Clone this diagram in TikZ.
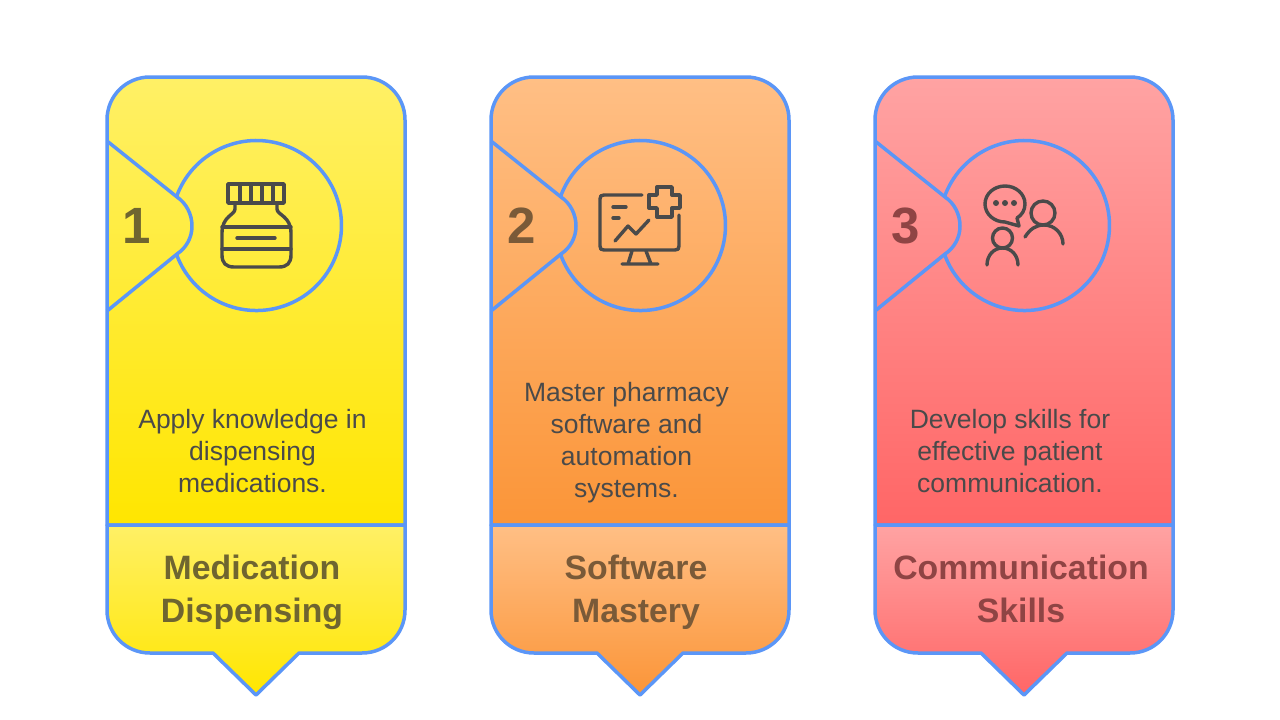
\documentclass[tikz,border=0pt]{standalone}
\usepackage{fontspec}
\setmainfont{Liberation Sans}
\definecolor{edgeblue}{HTML}{5B96F7}
\definecolor{icondark}{HTML}{4A4A4A}
\definecolor{yelA}{HTML}{FFF066}\definecolor{yelB}{HTML}{FFE600}
\definecolor{oraA}{HTML}{FFBF85}\definecolor{oraB}{HTML}{FB9538}
\definecolor{redA}{HTML}{FFA3A3}\definecolor{redB}{HTML}{FF6666}
\definecolor{yelT}{HTML}{6F6530}\definecolor{oraT}{HTML}{7A5A38}
\definecolor{redT}{HTML}{8F4444}
\tikzset{
  outline/.style={draw=edgeblue,line width=3.5pt,line join=round},
  bodytext/.style={text=icondark,align=center,font=\fontsize{26.5}{32}\selectfont,inner sep=0pt},
  titletext/.style={align=center,font=\fontsize{33.8}{43}\selectfont\bfseries,inner sep=0pt},
  numtext/.style={font=\fontsize{51}{51}\selectfont\bfseries,inner sep=0pt},
  icon/.style={draw=icondark,line width=3.4pt,line cap=round,line join=round}
}
\newcommand{\cardshape}[3]{%
\begin{scope}[xshift=#1pt]
  \path[outline,top color=#2,bottom color=#3]
    (107,525) -- (107,120) .. controls (107,96) and (126,77) .. (150,77) -- (362,77)
    .. controls (386,77) and (405,96) .. (405,120) -- (405,525) -- cycle;
  \path[outline,top color=#2,bottom color=#3]
    (107,525) -- (107,610) .. controls (107,634) and (126,653) .. (150,653) -- (213,653)
    -- (256,695) -- (299,653) -- (362,653)
    .. controls (386,653) and (405,634) .. (405,610) -- (405,525) -- cycle;
  \draw[outline] (107,141) -- (177,197) .. controls (186,203) and (192,214) .. (192,226)
    .. controls (192,238) and (186,248) .. (177,254) -- (107,311);
  \draw[outline] (176.4,197) arc[start angle=199.6,end angle=520.4,radius=85];
\end{scope}}
\begin{document}
\begin{tikzpicture}[x=1pt,y=-1pt]
\useasboundingbox (0,0) rectangle (1280,720);
\fill[white] (0,0) rectangle (1280,720);
\cardshape{0}{yelA}{yelB}
\cardshape{384}{oraA}{oraB}
\cardshape{768}{redA}{redB}
% numbers
\node[numtext,text=yelT] (numA) at (136.5,226) {1};
\node[numtext,text=oraT] (numB) at (522,226) {2};
\node[numtext,text=redT] (numC) at (906,226) {3};
% body
\node[bodytext] (bodyA) at (252.5,451) {Apply knowledge in\\dispensing\\medications.};
\node[bodytext] (bodyB) at (626.5,443) {Master pharmacy\\software and\\automation\\systems.};
\node[bodytext] (bodyC) at (1010,451) {Develop skills for\\effective patient\\communication.};
% titles
\node[titletext,text=yelT] (titleA) at (252,592) {Medication\\Dispensing};
\node[titletext,text=oraT] (titleB) at (636,592) {Software\\Mastery};
\node[titletext,text=redT] (titleC) at (1021,589) {Communication\\Skills};
% bottle
\draw[icon] (228,184) rectangle (284,203);
\draw[icon] (240,184) -- (240,203) (251,184) -- (251,203) (262,184) -- (262,203) (273,184) -- (273,203);
\draw[icon] (235,203) -- (235,209) .. controls (235,215) and (222,216) .. (222,233) -- (222,255)
  .. controls (222,263) and (226,267) .. (234,267) -- (279,267)
  .. controls (287,267) and (291,263) .. (291,255) -- (291,233)
  .. controls (291,216) and (277,215) .. (277,209) -- (277,203);
\draw[icon] (222,227) -- (291,227) (222,249) -- (291,249) (237,238) -- (275,238);
% monitor
\draw[icon] (642,195) -- (604,195) .. controls (601,195) and (600,196) .. (600,199) -- (600,246)
  .. controls (600,249) and (601,250) .. (604,250) -- (675,250)
  .. controls (678,250) and (679,249) .. (679,246) -- (679,215);
\draw[icon] (632,251) -- (628,264) (646,251) -- (651,264) (622,264) -- (658,264);
\draw[icon] (613,207) -- (626,207) (613,218) -- (619,218);
\draw[icon] (615,241) -- (628,226) -- (636,234) -- (649,220);
\draw[icon] (657,187) -- (672,187) -- (672,195) -- (680,195) -- (680,208) -- (672,208) -- (672,217)
  -- (657,217) -- (657,208) -- (649,208) -- (649,195) -- (657,195) -- cycle;
% people
\draw[icon] (1019,226) -- (1005,222) .. controls (994,222) and (985,214) .. (985,204)
  .. controls (985,194) and (994,186) .. (1005,186) .. controls (1016,186) and (1025,194) .. (1025,204)
  .. controls (1025,210) and (1022,215) .. (1017,218) -- cycle;
\fill[icondark] (996,203) circle[radius=3] (1005,203) circle[radius=3] (1014,203) circle[radius=3];
\draw[icon] (1043,213) circle[radius=12];
\draw[icon] (1025,237) .. controls (1030,229) and (1036,225) .. (1044,225) .. controls (1055,225) and (1063,234) .. (1063,244);
\draw[icon] (1002.5,238) circle[radius=10];
\draw[icon] (987,265) .. controls (987,255) and (994,248) .. (1002.5,248) .. controls (1011,248) and (1018,255) .. (1018,265);
\end{tikzpicture}
\end{document}
